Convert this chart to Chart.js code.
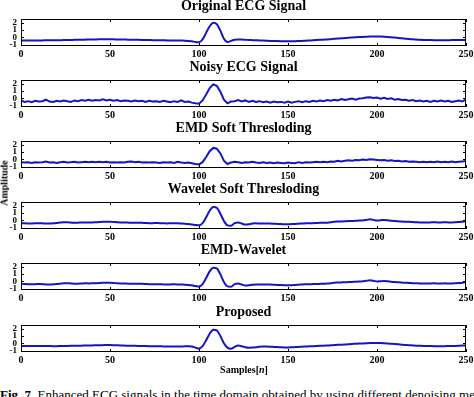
<!DOCTYPE html>
<html lang="en">
<head>
<meta charset="UTF-8">
<title>ECG denoising comparison</title>
<script src="https://cdn.jsdelivr.net/npm/chart.js"></script>
<style>
  body { margin: 0; width: 474px; height: 397px; overflow: hidden; position: relative; background: #fff; font-family: "Liberation Serif", serif; }
  canvas { position: absolute; left: 0; }
  .ylabel { position: absolute; left: 4px; top: 183px; transform: translate(-50%, -50%) rotate(-90deg); font-weight: bold; font-size: 10px; white-space: nowrap; }
  .xlabel { position: absolute; left: 244px; top: 369px; transform: translate(-50%, -50%); font-weight: bold; font-size: 10px; white-space: nowrap; }
  .caption { position: absolute; left: 0; top: 388px; font-size: 13px; line-height: 13px; white-space: nowrap; }
</style>
</head>
<body>
<canvas id="p0" width="474" height="61" style="top:-1px"></canvas>
<canvas id="p1" width="474" height="61" style="top:60px"></canvas>
<canvas id="p2" width="474" height="61" style="top:121px"></canvas>
<canvas id="p3" width="474" height="61" style="top:182px"></canvas>
<canvas id="p4" width="474" height="61" style="top:243px"></canvas>
<canvas id="p5" width="474" height="61" style="top:305px"></canvas>
<div class="ylabel">Amplitude</div>
<div class="xlabel">Samples[<i>n</i>]</div>
<div class="caption"><b>Fig. 7</b>&nbsp; Enhanced ECG signals in the time domain obtained by using different denoising methods</div>
<script>
// sample index (every 2nd sample)
const samples = [0,2,4,6,8,10,12,14,16,18,20,22,24,26,28,30,32,34,36,38,40,42,44,46,48,50,52,54,56,58,
  60,62,64,66,68,70,72,74,76,78,80,82,84,86,88,90,92,94,96,98,100,102,104,106,108,110,112,114,116,118,
  120,122,124,126,128,130,132,134,136,138,140,142,144,146,148,150,152,154,156,158,160,162,164,166,168,170,172,174,176,178,
  180,182,184,186,188,190,192,194,196,198,200,202,204,206,208,210,212,214,216,218,220,222,224,226,228,230,232,234,236,238,
  240,242,244,246,248,250];
const xTicks = [0, 50, 100, 150, 200, 250];
const yTicks = [-1, 0, 1, 2];
const titles = ['Original ECG Signal', 'Noisy ECG Signal', 'EMD Soft Thresloding',
  'Wavelet Soft Thresloding', 'EMD-Wavelet', 'Proposed'];

const original = [
  -0.45,-0.45,-0.45,-0.44,-0.44,-0.43,-0.43,-0.42,-0.42,-0.41,
  -0.41,-0.4,-0.39,-0.38,-0.37,-0.36,-0.35,-0.34,-0.33,-0.32,
  -0.31,-0.3,-0.29,-0.28,-0.28,-0.28,-0.29,-0.3,-0.31,-0.32,
  -0.33,-0.34,-0.35,-0.36,-0.37,-0.38,-0.39,-0.4,-0.4,-0.41,
  -0.42,-0.43,-0.44,-0.44,-0.45,-0.46,-0.47,-0.5,-0.55,-0.65,
  -0.7,-0.3,0.6,1.5,2.0,1.8,0.9,-0.2,-0.65,-0.5,
  -0.35,-0.3,-0.32,-0.35,-0.38,-0.4,-0.42,-0.44,-0.46,-0.48,
  -0.5,-0.52,-0.53,-0.54,-0.55,-0.55,-0.55,-0.54,-0.52,-0.5,
  -0.48,-0.45,-0.42,-0.39,-0.36,-0.33,-0.3,-0.26,-0.22,-0.18,
  -0.15,-0.11,-0.07,-0.04,-0.01,0.02,0.05,0.07,0.09,0.1,
  0.1,0.09,0.07,0.04,0.0,-0.05,-0.1,-0.15,-0.2,-0.25,
  -0.29,-0.32,-0.35,-0.37,-0.38,-0.39,-0.4,-0.4,-0.4,-0.4,
  -0.4,-0.39,-0.39,-0.38,-0.38,-0.38];

const noisy = [
  -0.3,-0.5,-0.4,-0.55,-0.35,-0.45,-0.4,-0.2,-0.45,-0.5,
  -0.35,-0.45,-0.3,-0.4,-0.5,-0.3,-0.4,-0.25,-0.35,-0.2,
  -0.35,-0.25,-0.3,-0.15,-0.3,-0.2,-0.35,-0.25,-0.4,-0.3,
  -0.35,-0.45,-0.3,-0.4,-0.35,-0.5,-0.35,-0.45,-0.4,-0.5,
  -0.35,-0.45,-0.55,-0.4,-0.5,-0.3,-0.5,-0.45,-0.6,-0.7,
  -0.75,-0.3,0.5,1.4,1.9,1.7,0.9,-0.2,-0.7,-0.45,
  -0.4,-0.25,-0.45,-0.3,-0.5,-0.35,-0.5,-0.4,-0.55,-0.45,
  -0.6,-0.45,-0.55,-0.5,-0.6,-0.45,-0.6,-0.5,-0.4,-0.55,
  -0.4,-0.5,-0.35,-0.45,-0.3,-0.4,-0.25,-0.35,-0.2,-0.3,
  -0.1,-0.25,-0.15,-0.05,-0.2,-0.05,0.0,0.1,0.15,0.05,
  0.1,-0.05,0.05,-0.1,0.0,-0.2,-0.1,-0.25,-0.2,-0.35,
  -0.25,-0.4,-0.3,-0.45,-0.35,-0.5,-0.35,-0.45,-0.3,-0.45,
  -0.35,-0.5,-0.4,-0.3,-0.45,-0.15];

const emdSoft = [
  -0.4,-0.45,-0.4,-0.5,-0.4,-0.45,-0.4,-0.3,-0.45,-0.4,
  -0.5,-0.4,-0.35,-0.45,-0.4,-0.35,-0.45,-0.4,-0.35,-0.4,
  -0.35,-0.4,-0.35,-0.4,-0.35,-0.45,-0.4,-0.45,-0.4,-0.45,
  -0.35,-0.3,-0.4,-0.35,-0.45,-0.4,-0.45,-0.4,-0.45,-0.5,
  -0.4,-0.45,-0.4,-0.5,-0.35,-0.45,-0.5,-0.45,-0.55,-0.65,
  -0.7,-0.4,0.3,1.1,1.55,1.45,0.8,-0.2,-0.65,-0.45,
  -0.35,-0.4,-0.5,-0.4,-0.45,-0.35,-0.45,-0.5,-0.4,-0.5,
  -0.45,-0.55,-0.45,-0.5,-0.55,-0.45,-0.5,-0.55,-0.4,-0.5,
  -0.4,-0.45,-0.4,-0.35,-0.4,-0.35,-0.4,-0.3,-0.35,-0.2,
  -0.3,-0.2,-0.15,-0.2,-0.1,-0.15,-0.05,-0.1,0.0,-0.05,
  -0.1,-0.15,-0.1,-0.2,-0.15,-0.25,-0.2,-0.3,-0.25,-0.35,
  -0.3,-0.35,-0.4,-0.35,-0.4,-0.35,-0.4,-0.3,-0.4,-0.35,
  -0.4,-0.3,-0.4,-0.35,-0.3,-0.25];

const waveletSoft = [
  -0.4,-0.42,-0.43,-0.43,-0.42,-0.4,-0.42,-0.45,-0.45,-0.42,
  -0.38,-0.32,-0.28,-0.28,-0.32,-0.35,-0.33,-0.3,-0.3,-0.32,
  -0.3,-0.27,-0.25,-0.22,-0.2,-0.2,-0.24,-0.28,-0.3,-0.3,
  -0.32,-0.35,-0.35,-0.33,-0.35,-0.38,-0.4,-0.4,-0.38,-0.4,
  -0.42,-0.44,-0.42,-0.4,-0.42,-0.45,-0.48,-0.52,-0.58,-0.65,
  -0.7,-0.4,0.4,1.3,1.8,1.7,0.9,-0.1,-0.7,-0.75,
  -0.4,-0.3,-0.45,-0.6,-0.55,-0.45,-0.42,-0.45,-0.45,-0.43,
  -0.45,-0.48,-0.5,-0.52,-0.55,-0.55,-0.52,-0.5,-0.47,-0.45,
  -0.42,-0.4,-0.4,-0.38,-0.36,-0.35,-0.33,-0.28,-0.2,-0.18,
  -0.17,-0.15,-0.12,-0.1,-0.08,-0.05,-0.02,0.05,0.12,0.05,
  -0.05,0.0,0.05,0.0,-0.08,-0.12,-0.15,-0.18,-0.2,-0.22,
  -0.25,-0.27,-0.3,-0.3,-0.32,-0.3,-0.28,-0.3,-0.3,-0.28,
  -0.3,-0.3,-0.28,-0.25,-0.2,-0.15];

const emdWavelet = [
  -0.35,-0.38,-0.4,-0.4,-0.4,-0.38,-0.4,-0.43,-0.45,-0.42,
  -0.38,-0.33,-0.28,-0.27,-0.3,-0.33,-0.33,-0.3,-0.28,-0.3,
  -0.28,-0.26,-0.24,-0.22,-0.2,-0.21,-0.24,-0.28,-0.3,-0.31,
  -0.33,-0.35,-0.36,-0.35,-0.36,-0.38,-0.4,-0.41,-0.4,-0.42,
  -0.43,-0.44,-0.43,-0.42,-0.43,-0.45,-0.47,-0.5,-0.56,-0.65,
  -0.72,-0.4,0.45,1.35,1.85,1.75,0.95,-0.1,-0.7,-0.75,
  -0.4,-0.3,-0.45,-0.58,-0.55,-0.47,-0.43,-0.45,-0.46,-0.45,
  -0.46,-0.48,-0.5,-0.53,-0.55,-0.56,-0.54,-0.5,-0.47,-0.44,
  -0.42,-0.4,-0.39,-0.37,-0.36,-0.35,-0.32,-0.27,-0.2,-0.18,
  -0.16,-0.14,-0.11,-0.09,-0.07,-0.04,0.0,0.06,0.12,0.06,
  -0.04,0.0,0.04,0.0,-0.07,-0.12,-0.15,-0.18,-0.21,-0.23,
  -0.26,-0.28,-0.3,-0.31,-0.32,-0.3,-0.29,-0.3,-0.31,-0.29,
  -0.3,-0.3,-0.28,-0.25,-0.2,-0.12];

const proposed = [
  -0.38,-0.38,-0.38,-0.38,-0.38,-0.38,-0.38,-0.38,-0.39,-0.4,
  -0.4,-0.39,-0.38,-0.37,-0.36,-0.35,-0.34,-0.33,-0.32,-0.31,
  -0.3,-0.28,-0.27,-0.26,-0.25,-0.25,-0.26,-0.28,-0.3,-0.32,
  -0.34,-0.35,-0.36,-0.37,-0.38,-0.39,-0.4,-0.41,-0.42,-0.42,
  -0.43,-0.44,-0.45,-0.45,-0.45,-0.44,-0.42,-0.42,-0.45,-0.6,
  -0.72,-0.4,0.4,1.3,1.85,1.75,1.0,0.0,-0.6,-0.75,
  -0.5,-0.3,-0.4,-0.55,-0.62,-0.6,-0.55,-0.48,-0.45,-0.45,
  -0.47,-0.5,-0.53,-0.56,-0.58,-0.58,-0.56,-0.53,-0.5,-0.47,
  -0.45,-0.42,-0.4,-0.38,-0.36,-0.34,-0.31,-0.28,-0.25,-0.22,
  -0.19,-0.16,-0.13,-0.1,-0.07,-0.04,-0.02,0.0,0.02,0.03,
  0.03,0.02,0.0,-0.03,-0.07,-0.11,-0.15,-0.19,-0.23,-0.27,
  -0.3,-0.33,-0.35,-0.37,-0.38,-0.39,-0.4,-0.4,-0.4,-0.4,
  -0.39,-0.38,-0.37,-0.35,-0.32,-0.28];

const series = [original, noisy, emdSoft, waveletSoft, emdWavelet, proposed];
const smooth = [true, false, false, true, true, true];

const serif = 'Liberation Serif, Times New Roman, serif';

// box around plot with inward ticks on all four sides
const frame = {
  id: 'frame',
  afterDraw(chart) {
    const { ctx, chartArea: a, scales: { x, y } } = chart;
    ctx.save();
    ctx.strokeStyle = '#000';
    ctx.lineWidth = 1;
    ctx.beginPath();
    xTicks.forEach(v => {
      const px = Math.round(x.getPixelForValue(v)) + 0.5;
      ctx.moveTo(px, a.bottom); ctx.lineTo(px, a.bottom - 3);
      ctx.moveTo(px, a.top); ctx.lineTo(px, a.top + 3);
    });
    yTicks.forEach(v => {
      const py = Math.round(y.getPixelForValue(v)) + 0.5;
      ctx.moveTo(a.left, py); ctx.lineTo(a.left + 3, py);
      ctx.moveTo(a.right, py); ctx.lineTo(a.right - 3, py);
    });
    ctx.stroke();
    ctx.strokeRect(Math.round(a.left) + 0.5, Math.round(a.top) + 0.5,
      Math.round(a.width) - 1, Math.round(a.height) - 1);
    ctx.restore();
  }
};

series.forEach((data, i) => {
  new Chart(document.getElementById('p' + i), {
    type: 'line',
    data: {
      labels: samples,
      datasets: [{
        data: data,
        borderColor: '#1515c8',
        borderWidth: 2,
        pointRadius: 0,
        fill: false,
        cubicInterpolationMode: smooth[i] ? 'monotone' : 'default',
        tension: 0
      }]
    },
    options: {
      responsive: false,
      animation: false,
      layout: { padding: { left: 0, right: 8, top: 0, bottom: 0 } },
      plugins: {
        legend: { display: false },
        tooltip: { enabled: false },
        title: {
          display: true,
          text: titles[i],
          color: '#000',
          fullSize: false,
          font: { family: serif, size: 14, weight: 'bold', lineHeight: 1 },
          padding: { top: 0, bottom: 6 }
        }
      },
      scales: {
        x: {
          type: 'linear',
          min: 0,
          max: 250,
          afterBuildTicks: s => { s.ticks = xTicks.map(v => ({ value: v })); },
          afterFit: s => { s.height = 14; s.paddingLeft = 0; s.paddingRight = 0; },
          grid: { display: false, drawTicks: false },
          border: { display: false },
          ticks: { padding: 2, color: '#000', maxRotation: 0, autoSkip: false,
            font: { family: serif, size: 10, weight: 'bold' } }
        },
        y: {
          min: -1.2,
          max: 2.5,
          afterBuildTicks: s => { s.ticks = yTicks.map(v => ({ value: v })); },
          afterFit: s => { s.width = 21; s.paddingTop = 0; s.paddingBottom = 0; },
          grid: { display: false, drawTicks: false },
          border: { display: false },
          ticks: { padding: 4, color: '#000', autoSkip: false, autoSkipPadding: -3,
            font: { family: serif, size: 9, weight: 'bold', lineHeight: 1 } }
        }
      }
    },
    plugins: [frame]
  });
});
</script>
</body>
</html>
